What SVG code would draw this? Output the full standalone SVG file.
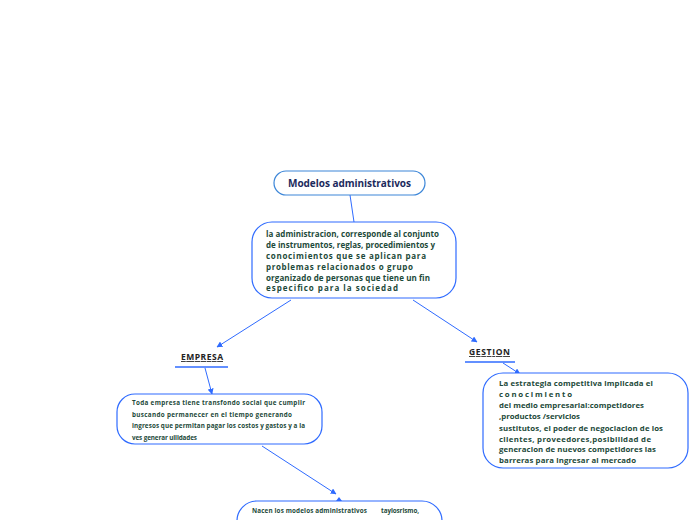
<svg xmlns="http://www.w3.org/2000/svg" width="696" height="520" viewBox="0 0 696 520">
<defs>
<style>
.box{fill:#fff;stroke:#2f6bff;stroke-width:1.2}
.root{fill:#fff;stroke:#3c86d8;stroke-width:1.2}
.t{font-family:"Open Sans","Noto Sans",sans-serif;font-weight:700;fill:#1d4a3a}
.rt{font-family:"Open Sans","Noto Sans",sans-serif;font-weight:700;fill:#1c2a5c;font-size:10px}
.lbl{font-family:"Open Sans","Noto Sans",sans-serif;font-weight:700;fill:#222;font-size:8.5px;text-decoration:underline}
.c{stroke:#2f6bff;stroke-width:1;fill:none}
.ul{stroke:#2f6bff;stroke-width:1.4}
</style>
<marker id="ah" viewBox="0 0 10 10" refX="9" refY="5" markerWidth="6" markerHeight="6" orient="auto" markerUnits="userSpaceOnUse">
<path d="M0,0 L10,5 L0,10 z" fill="#2f6bff"/>
</marker>
</defs>
<rect width="696" height="520" fill="#fff"/>
<g id="connectors">
<line class="c" x1="350" y1="195" x2="354" y2="222"/>
<line class="c" x1="291" y1="300" x2="217" y2="347" marker-end="url(#ah)"/>
<line class="c" x1="413" y1="300" x2="477" y2="342" marker-end="url(#ah)"/>
<line class="c" x1="205" y1="368" x2="212" y2="394" marker-end="url(#ah)"/>
<line class="c" x1="503" y1="363" x2="520" y2="374" marker-end="url(#ah)"/>
<line class="c" x1="262" y1="446" x2="336" y2="494" marker-end="url(#ah)"/>
<path d="M336,501 L339,497 L342,501 z" fill="#2f6bff"/>
</g>
<g id="root">
<rect class="root" x="274" y="171" width="151" height="24" rx="12"/>
<text class="rt" x="288" y="187" textLength="123" lengthAdjust="spacing">Modelos administrativos</text>
</g>
<g id="node-admin">
<rect class="box" x="252" y="222" width="204" height="76" rx="20"/>
<g class="t" font-size="8px">
<text x="266" y="237" textLength="173" lengthAdjust="spacing">la administracion, corresponde al conjunto</text>
<text x="266" y="248" textLength="169" lengthAdjust="spacing">de instrumentos, reglas, procedimientos y</text>
<text x="266" y="259" textLength="160" lengthAdjust="spacing">conocimientos  que se aplican para</text>
<text x="266" y="270" textLength="147" lengthAdjust="spacing">problemas relacionados o grupo</text>
<text x="266" y="280.5" textLength="164" lengthAdjust="spacing">organizado de personas que tiene un fin</text>
<text x="266" y="291" textLength="132" lengthAdjust="spacing">especifico para la sociedad</text>
</g>
</g>
<g id="empresa">
<text class="lbl" x="181" y="360" textLength="42" lengthAdjust="spacing">EMPRESA</text>
<line class="ul" x1="175" y1="367" x2="228" y2="367"/>
</g>
<g id="gestion">
<text class="lbl" x="469" y="355" textLength="41" lengthAdjust="spacing">GESTION</text>
<line class="ul" x1="465" y1="362" x2="515" y2="362"/>
</g>
<g id="node-empresa">
<rect class="box" x="117" y="394" width="205" height="50" rx="18"/>
<g class="t" font-size="6.3px">
<text x="132" y="405" textLength="173" lengthAdjust="spacing">Toda empresa tiene transfondo social que  cumplir</text>
<text x="132" y="416.5" textLength="160" lengthAdjust="spacing">buscando permanecer en el tiempo generando</text>
<text x="132" y="428" textLength="173" lengthAdjust="spacing">ingresos que permitan pagar los costos y gastos y a la</text>
<text x="132" y="439.5" textLength="65" lengthAdjust="spacing">ves generar uilidades</text>
</g>
</g>
<g id="node-gestion">
<rect class="box" x="483" y="373" width="205" height="95" rx="20"/>
<g class="t" font-size="7.8px">
<text x="499" y="386" textLength="154" lengthAdjust="spacing">La estrategia competitiva implicada el</text>
<text x="499" y="397" textLength="73" lengthAdjust="spacing">conocimiento</text>
<text x="499" y="408" textLength="145" lengthAdjust="spacing">del medio empresarial:competidores</text>
<text x="499" y="419" textLength="81" lengthAdjust="spacing">,productos /servicios</text>
<text x="499" y="430.5" textLength="164" lengthAdjust="spacing">sustitutos, el poder de negociacion de los</text>
<text x="499" y="441.5" textLength="152" lengthAdjust="spacing">clientes, proveedores,posibilidad de</text>
<text x="499" y="452" textLength="157" lengthAdjust="spacing">generacion de nuevos competidores las</text>
<text x="499" y="463" textLength="137" lengthAdjust="spacing">barreras para ingresar al mercado</text>
</g>
</g>
<g id="node-modelos">
<rect class="box" x="237" y="501" width="205" height="60" rx="20"/>
<g class="t" font-size="6.3px">
<text x="252" y="513" textLength="115" lengthAdjust="spacing">Nacen los modelos administrativos</text>
<text x="381" y="513" textLength="38" lengthAdjust="spacing">taylosrismo,</text>
</g>
</g>
</svg>
